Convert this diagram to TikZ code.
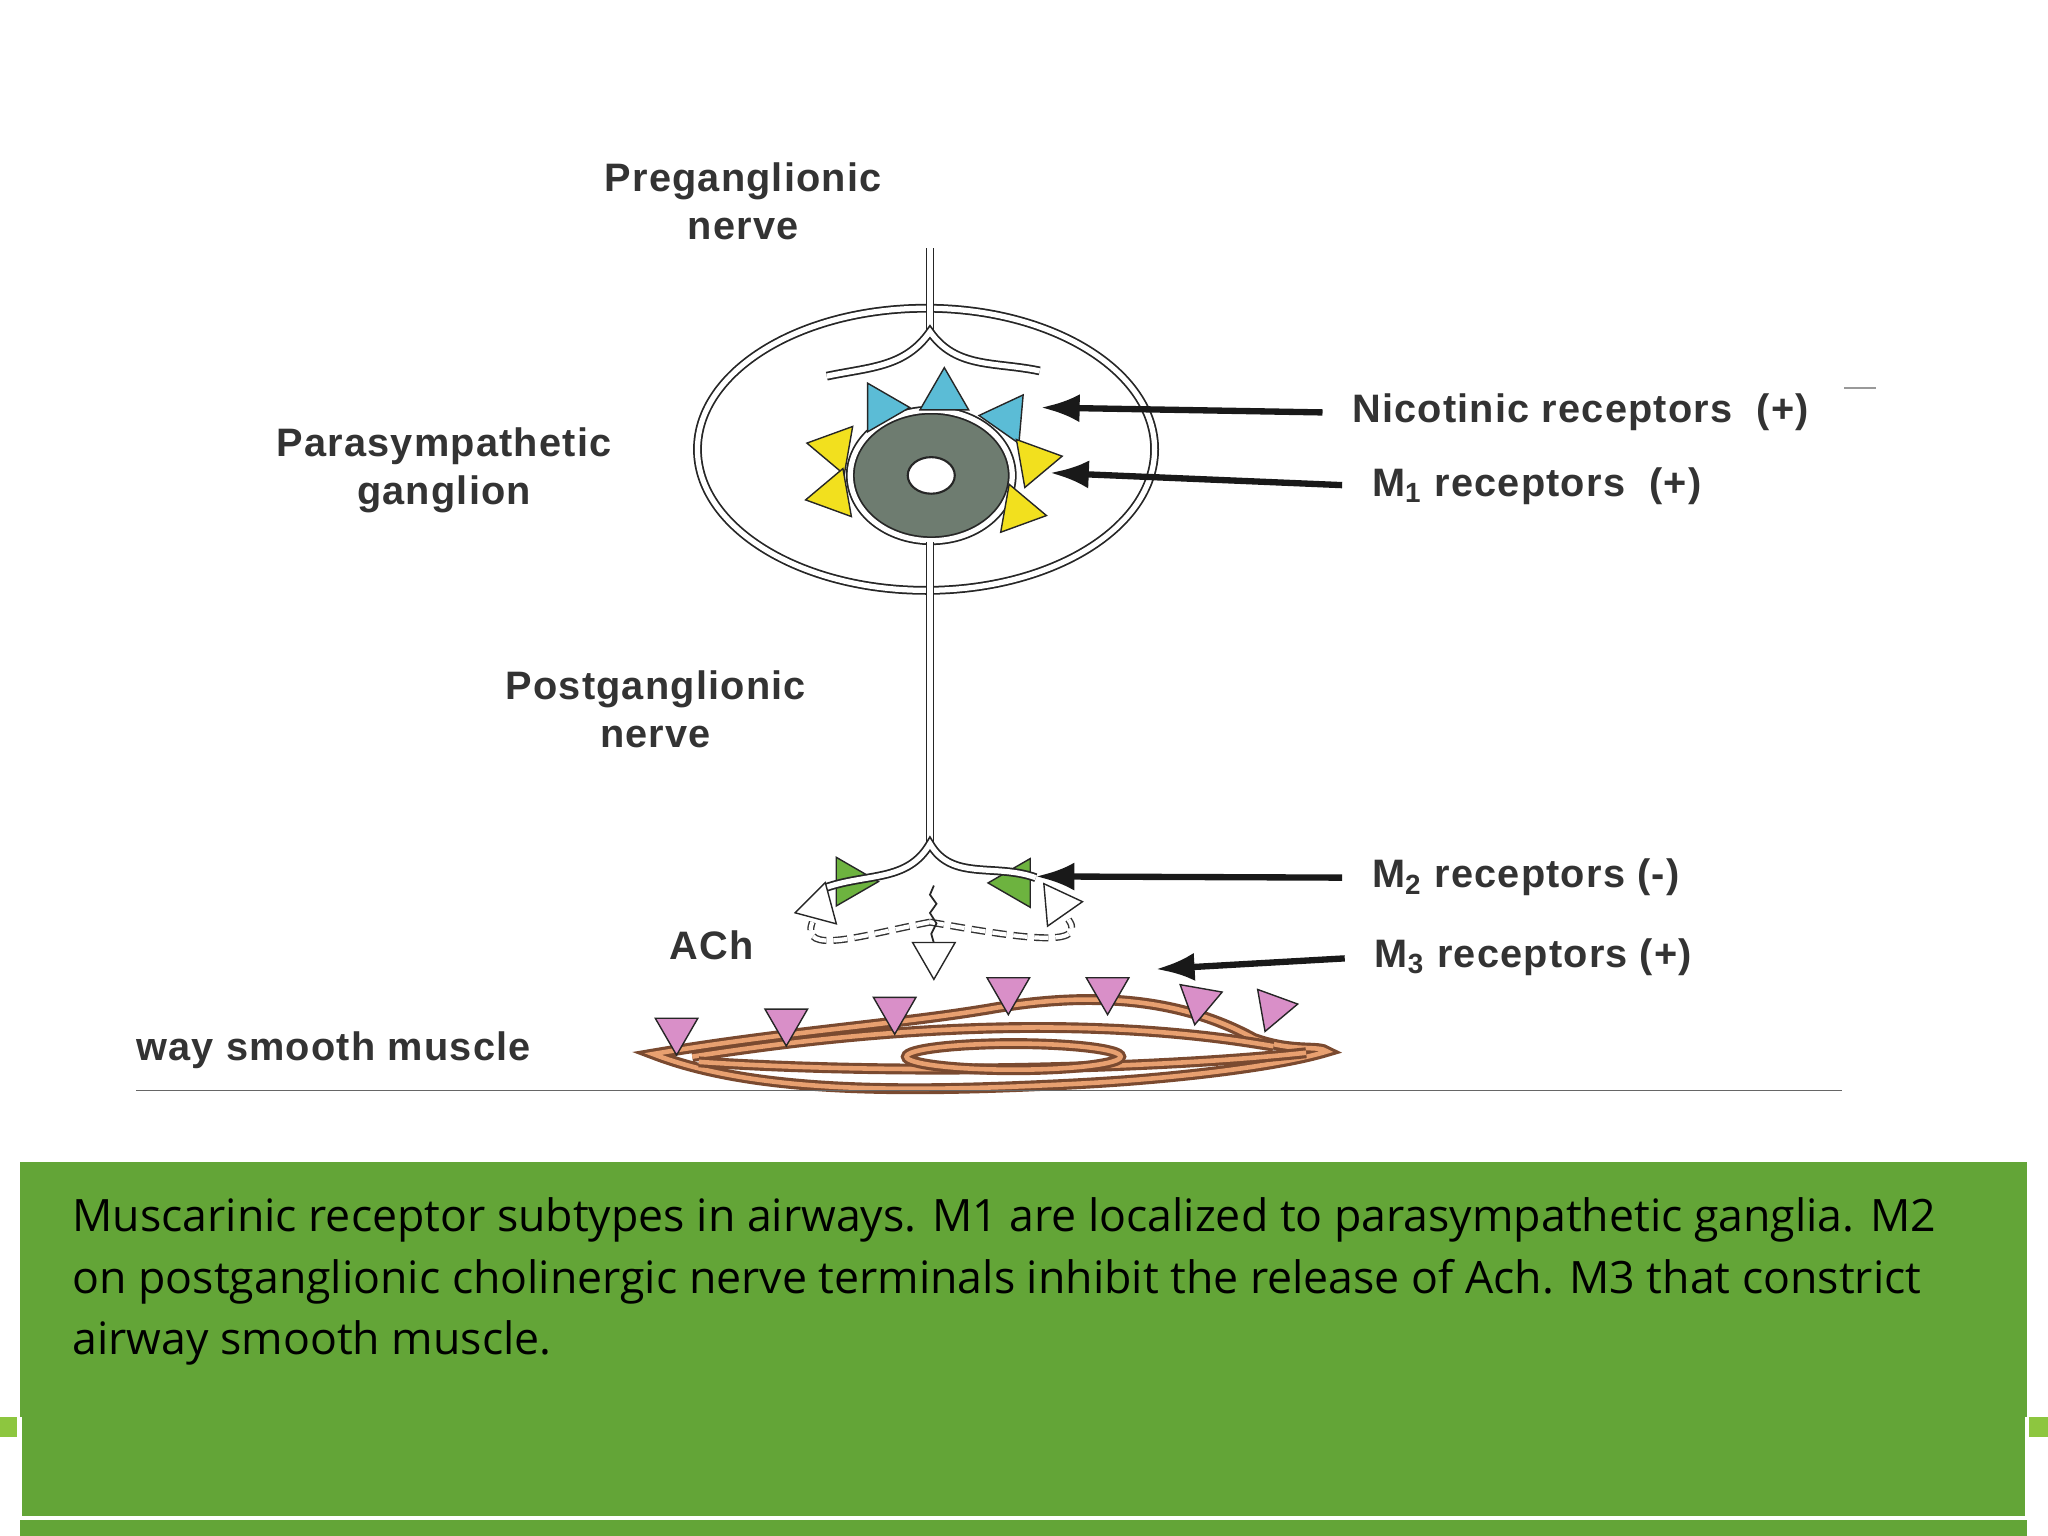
\documentclass[tikz,border=0pt]{standalone}
\usepackage{fontspec}
\setmainfont{Liberation Sans}
\newfontfamily\capfont{Open Sans}
\usetikzlibrary{arrows.meta,shapes.geometric}
\definecolor{slidegreen}{HTML}{63A537}
\definecolor{stripgreen}{HTML}{8DC63F}
\definecolor{cellgrey}{HTML}{6E7C70}
\definecolor{nicblue}{HTML}{5BBCD6}
\definecolor{moneyellow}{HTML}{F2E01E}
\definecolor{mtwogreen}{HTML}{6DB33F}
\definecolor{mthreepink}{HTML}{D98FC8}
\definecolor{musclebrown}{HTML}{7A4A30}
\definecolor{musclecore}{HTML}{E8A070}
\begin{document}
\begin{tikzpicture}[
                    x=0.01306cm, y=-0.01306cm, % one unit = one pixel of the slide
                    lbl/.style={font=\bfseries\fontsize{11.3}{12.5}\selectfont\addfontfeature{LetterSpace=3}, text=black!80, align=center},
                    nerve/.style={draw=black!85, double=white, double distance=1.5pt, line width=0.5pt},
                    rcp/.style={regular polygon, regular polygon sides=3, draw=black!85, line width=0.4pt, inner sep=0pt, minimum size=16pt},
                    ptr/.style={-{Latex[length=11pt,width=8pt]}, line width=1.8pt, black!90, shorten <=5pt},
                    achflow/.style={draw=black!80, double=white, double distance=1.2pt, line width=0.4pt, dash pattern=on 4pt off 2pt},
                    muscle/.style={draw=musclebrown, double=musclecore, double distance=1.3pt, line width=0.9pt}
                ]
                \useasboundingbox (0,0) rectangle (1568,1176);

                % labels
                \node[lbl] (pre) at (569,154) {Preganglionic\\[1pt]nerve};
                \node[lbl] (gang) at (340,360) {Parasympathetic\\[1pt]ganglion};
                \node[lbl] (post) at (502,543) {Postganglionic\\[1pt]nerve};
                \node[lbl, anchor=west] (nic) at (1026,316) {Nicotinic receptors \ (+)};
                \node[lbl, anchor=west] (mone) at (1041,372) {M\textsubscript{1} receptors \ (+)};
                \node[lbl, anchor=west] (mtwo) at (1041,672) {M\textsubscript{2} receptors (-)};
                \node[lbl, anchor=west] (mthree) at (1043,733) {M\textsubscript{3} receptors (+)};
                \node[lbl] (ach) at (545,724) {ACh};
                \node[lbl, anchor=west, inner sep=0pt] (smooth) at (104,804) {way smooth muscle};

                % ganglion
                \draw[nerve] (709,344) ellipse [x radius=175, y radius=108];
                \draw[nerve] (712,190) -- (712,254) coordinate (split);
                \draw[nerve] (633,288) to[out=12, in=-125] (split) to[out=-55, in=168] (796,284);
                \draw[nerve, fill=cellgrey] (713,364) ellipse [x radius=62, y radius=50];
                \draw[black!85, fill=white, line width=0.6pt] (713,364) ellipse [x radius=18, y radius=14];
                \node[rcp, fill=nicblue, shape border rotate=30] (nicA) at (675,312) {};
                \node[rcp, fill=nicblue] (nicB) at (723,303) {};
                \node[rcp, fill=nicblue, shape border rotate=-35] (nicC) at (771,320) {};
                \node[rcp, fill=moneyellow, shape border rotate=80] (moneA) at (639,343) {};
                \node[rcp, fill=moneyellow, shape border rotate=100] (moneB) at (638,379) {};
                \node[rcp, fill=moneyellow, shape border rotate=-80] (moneC) at (792,353) {};
                \node[rcp, fill=moneyellow, shape border rotate=-100] (moneD) at (780,391) {};

                % postganglionic nerve and terminal
                \draw[nerve] (712,415) -- (712,646) coordinate (fork);
                \node[rcp, fill=mtwogreen, shape border rotate=150] (mtwoA) at (651,675) {};
                \node[rcp, fill=mtwogreen, shape border rotate=-150] (mtwoB) at (778,676) {};
                \draw[nerve] (631,680) to[out=20, in=-120] (fork) to[out=-60, in=160] (793,672);

                % released ACh
                \draw[achflow] (712,706) .. controls (660,716) and (612,732) .. (622,706);
                \draw[achflow] (712,706) .. controls (770,716) and (835,728) .. (818,704);
                \draw[black!85, line width=0.5pt] (715,678) -- (712,685) -- (717,692) -- (712,699) -- (717,707) -- (713,715) -- (715,722);
                \node[rcp, fill=white, shape border rotate=-15, minimum size=14pt] (achL) at (627,694) {};
                \node[rcp, fill=white, shape border rotate=35, minimum size=14pt] (achR) at (810,692) {};
                \node[rcp, fill=white, shape border rotate=180, minimum size=14pt] (achD) at (715,731) {};

                % airway smooth muscle
                \draw[muscle] (500,807) .. controls (600,790) and (690,784) .. (760,772)
                    .. controls (830,760) and (900,762) .. (960,795)
                    .. controls (990,806) and (1010,800) .. (1016,805)
                    .. controls (980,816) and (900,826) .. (820,830)
                    .. controls (700,836) and (580,838) .. (500,807) -- cycle;
                \draw[muscle] (530,809) .. controls (650,790) and (820,774) .. (975,801);
                \draw[muscle] (535,813) .. controls (700,824) and (900,817) .. (1000,806);
                \draw[muscle] (776,809) ellipse [x radius=82, y radius=10];
                \foreach \px/\py/\rot [count=\i] in {518/789/180, 602/782/180, 685/773/180, 772/758/180, 848/758/180, 918/766/170, 975/772/-80}
                    \node[rcp, fill=mthreepink, minimum size=14pt, shape border rotate=\rot] (mthr\i) at (\px,\py) {};

                % pointers
                \coordinate (nicTip) at (797,312);
                \coordinate (moneTip) at (804,362);
                \coordinate (mtwoTip) at (793,671);
                \coordinate (mthreeTip) at (885,742);
                \draw[ptr] (nic.west) -- (nicTip);
                \draw[ptr] (mone.west) -- (moneTip);
                \draw[ptr] (mtwo.west) -- (mtwoTip);
                \draw[ptr] (mthree.west) -- (mthreeTip);

                \draw[black!60, line width=0.5pt] (104,835) -- (1410,835);
                \draw[black!40, line width=0.6pt] (1412,297) -- (1436,297);

                % caption panel
                \fill[stripgreen] (0,1085) rectangle (1568,1100);
                \fill[slidegreen] (15,890) rectangle (1552,1176);
                \draw[white, line width=1.2pt] (15,1085) -- (15,1162) -- (1552,1162) -- (1552,1085);
                \node[font=\capfont\fontsize{12.7}{15}\selectfont, anchor=base west, inner sep=0pt] (capA) at (55,943) {Muscarinic receptor subtypes in airways. M1 are localized to parasympathetic ganglia. M2};
                \node[font=\capfont\fontsize{12.7}{15}\selectfont, anchor=base west, inner sep=0pt] (capB) at (55,990) {on postganglionic cholinergic nerve terminals inhibit the release of Ach. M3 that constrict};
                \node[font=\capfont\fontsize{12.7}{15}\selectfont, anchor=base west, inner sep=0pt] (capC) at (55,1037) {airway smooth muscle.};
            \end{tikzpicture}
\end{document}
